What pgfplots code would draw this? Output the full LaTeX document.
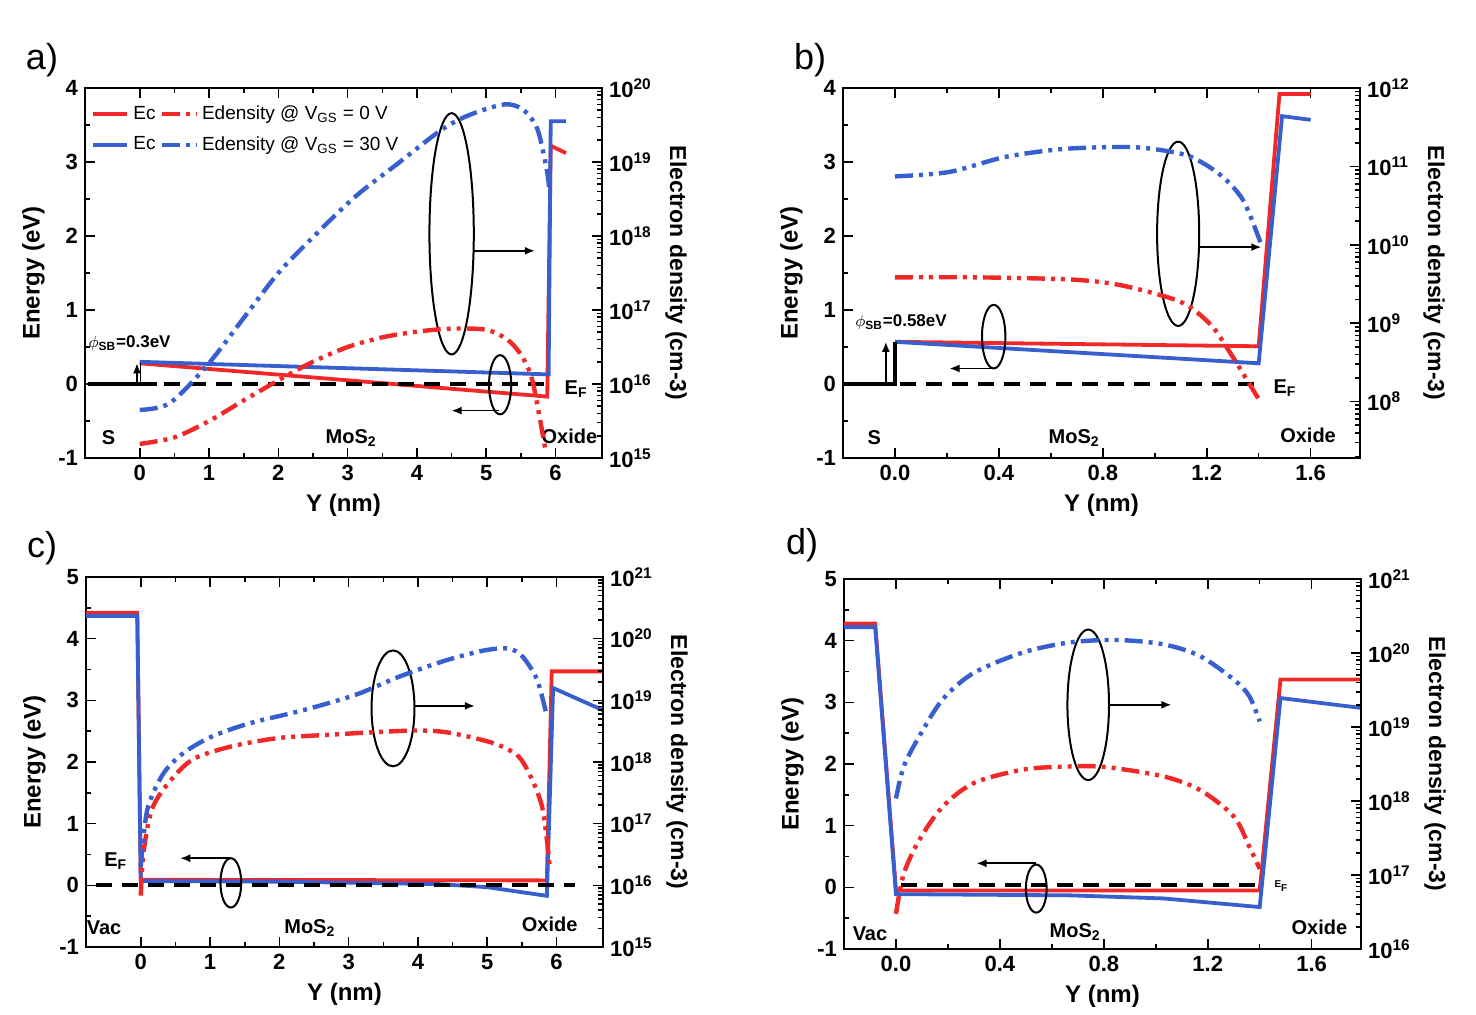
\documentclass[border=0pt]{standalone}
\usepackage{fontspec}
\setmainfont{Liberation Sans}
\usepackage{pgfplots}
\pgfplotsset{compat=1.18}
\usetikzlibrary{arrows.meta}
\definecolor{myred}{RGB}{240,40,40}
\definecolor{myblue}{RGB}{55,95,205}
\newcommand{\tf}{\bfseries\fontsize{11}{12}\selectfont}
\newcommand{\lf}{\bfseries\fontsize{12}{13}\selectfont}
\newcommand{\rf}{\bfseries\fontsize{11.5}{12}\selectfont}
\newcommand{\af}{\bfseries\fontsize{10}{11}\selectfont}
\newcommand{\pf}{\bfseries\fontsize{8.5}{9}\selectfont}
\tikzset{
 arr/.style={-{Latex[length=5pt,width=4pt]}, line width=0.8pt, black},
 ell/.style={line width=1pt, black},
 ec/.style={line width=1.9pt},
 dd/.style={line width=2.2pt, dash pattern=on 9pt off 3pt on 2pt off 3pt on 2pt off 3pt},
}
\pgfplotsset{
 base/.style={scale only axis, width=258.5pt, height=185pt, anchor=north west,
   tick align=inside, axis line style={line width=1pt}, major tick length=5pt, minor tick length=2.5pt,
   every tick/.append style={line width=0.8pt, black}, tick label style={font=\tf}, label style={font=\lf},
   clip mode=individual, /pgf/number format/assume math mode=true},
 eaxis/.style={base, ytick pos=left, ylabel={Energy (eV)}, xlabel={Y (nm)}, minor y tick num=1, minor x tick num=1},
 naxis/.style={base, axis x line=none, axis y line*=right,
   ylabel={Electron density (cm-3)}, ylabel style={rotate=180, font=\rf},
   yticklabel={\pgfmathparse{int(round(\tick))}10\textsuperscript{\pgfmathresult}}},
 wide/.style={xmin=-0.79, xmax=6.67, xtick={0,...,6}},
 narrow/.style={xmin=-0.2, xmax=1.79, xtick={0,0.4,0.8,1.2,1.6}, xticklabel style={/pgf/number format/.cd, fixed, fixed zerofill, precision=1}},
}
\begin{document}
\begin{tikzpicture}
\useasboundingbox (0,0) rectangle (738pt,-507pt);
% ---------------- panel a ----------------
\node[font=\fontsize{18}{18}\selectfont] at (21pt,-30pt) {a)};
\begin{axis}[eaxis, wide, at={(42.5pt,-44pt)}, ymin=-1, ymax=4, ytick={-1,0,...,4}]
\addplot[ec, myred, no markers] coordinates {(0,0.28) (5.88,-0.17) (5.93,3.22) (6.15,3.12)};
\addplot[ec, myblue, no markers] coordinates {(0,0.3) (5.9,0.13) (5.93,3.55) (6.15,3.55)};
\addplot[black, line width=2pt] coordinates {(-0.75,0) (0.25,0)};
\addplot[black, line width=2pt, dash pattern=on 8pt off 5pt] coordinates {(0.35,0) (5.85,0)};
\draw[arr] (axis cs:-0.04,0) -- (axis cs:-0.04,0.28);
\draw[line width=0.8pt] (axis cs:0.01,0) -- (axis cs:0.01,0.28);
\node[anchor=west, font=\pf] at (axis cs:-0.84,0.55) {$\phi$\textsubscript{SB}=0.3eV};
\node[font=\af] at (axis cs:-0.45,-0.73) {S};
\node[font=\af] at (axis cs:3.05,-0.73) {MoS\textsubscript{2}};
\node[font=\af] at (axis cs:6.2,-0.71) {Oxide};
\node[font=\af, anchor=west] at (axis cs:6.03,-0.07) {E\textsubscript{F}};
\draw[ell] (axis cs:4.5,2.03) ellipse [x radius=0.32, y radius=1.63];
\draw[arr] (axis cs:4.82,1.80) -- (axis cs:5.7,1.80);
\draw[ell] (axis cs:5.2,-0.01) ellipse [x radius=0.16, y radius=0.4];
\draw[arr] (axis cs:5.19,-0.36) -- (axis cs:4.5,-0.36);
\end{axis}
\begin{axis}[naxis, wide, ymode=log, log basis y=10, at={(42.5pt,-44pt)}, ymin=1e15, ymax=1e20,
  legend style={at={(rel axis cs:0.0,0.975)}, anchor=north west, draw=none, fill=none,
    font=\fontsize{9.5}{10}\selectfont, row sep=3pt},
  legend columns=2, legend cell align=left]
\addlegendimage{ec, myred, no markers}\addlegendentry{Ec}
\addplot[dd, myred, no markers, smooth] coordinates {(0,1.55e15) (0.5,1.9e15) (1,3.16e15) (1.5,6.0e15) (2,1.12e16) (2.5,2.0e16) (3,3.16e16) (3.5,4.27e16) (4,5.1e16) (4.5,5.6e16) (5,5.4e16) (5.3,4.0e16) (5.5,2.5e16) (5.65,1.26e16) (5.75,4.47e15) (5.85,1.35e15)};
\addlegendentry{Edensity @ V\textsubscript{GS} = 0 V}
\addlegendimage{ec, myblue, no markers}\addlegendentry{Ec}
\addplot[dd, myblue, no markers, smooth] coordinates {(0,4.47e15) (0.43,5.5e15) (0.98,1.82e16) (1.53,8.5e16) (2.01,3.24e17) (2.57,1.12e18) (3.12,3.47e18) (3.74,9.8e18) (4.36,2.75e19) (4.77,4.37e19) (5.26,6.0e19) (5.53,5.1e19) (5.74,2.75e19) (5.88,7.2e18) (5.91,3.9e18)};
\addlegendentry{Edensity @ V\textsubscript{GS} = 30 V}
\end{axis}
% ---------------- panel b ----------------
\node[font=\fontsize{18}{18}\selectfont] at (405pt,-30pt) {b)};
\begin{axis}[eaxis, narrow, at={(421.5pt,-44pt)}, ymin=-1, ymax=4, ytick={-1,0,...,4}]
\addplot[ec, myred, no markers] coordinates {(0,0.57) (1.40,0.51) (1.48,3.92) (1.6,3.92)};
\addplot[ec, myblue, no markers] coordinates {(0,0.57) (1.40,0.28) (1.49,3.62) (1.6,3.57)};
\addplot[black, line width=1.6pt] coordinates {(-0.2,0) (0,0) (0,0.57)};
\addplot[black, line width=2pt, dash pattern=on 8pt off 5pt] coordinates {(0.02,0) (1.40,0)};
\draw[arr] (axis cs:-0.035,0) -- (axis cs:-0.035,0.57);
\node[anchor=west, font=\pf] at (axis cs:-0.18,0.84) {$\phi$\textsubscript{SB}=0.58eV};
\node[font=\af] at (axis cs:-0.08,-0.73) {S};
\node[font=\af] at (axis cs:0.69,-0.73) {MoS\textsubscript{2}};
\node[font=\af] at (axis cs:1.59,-0.69) {Oxide};
\node[font=\af, anchor=west] at (axis cs:1.43,-0.05) {E\textsubscript{F}};
\draw[ell] (axis cs:1.09,2.03) ellipse [x radius=0.081, y radius=1.245];
\draw[arr] (axis cs:1.17,1.85) -- (axis cs:1.41,1.85);
\draw[ell] (axis cs:0.38,0.64) ellipse [x radius=0.045, y radius=0.43];
\draw[arr] (axis cs:0.38,0.21) -- (axis cs:0.21,0.21);
\end{axis}
\begin{axis}[naxis, narrow, ymode=log, log basis y=10, at={(421.5pt,-44pt)}, ymin=1.905e7, ymax=1e12]
\addplot[dd, myred, no markers, smooth] coordinates {(0,3.84e9) (0.32,3.84e9) (0.68,3.6e9) (0.86,3.09e9) (1.04,2.19e9) (1.13,1.65e9) (1.22,9.2e8) (1.29,4.2e8) (1.36,1.77e8) (1.41,9.5e7)};
\addplot[dd, myblue, no markers, smooth] coordinates {(0,7.45e10) (0.21,8.5e10) (0.42,1.31e11) (0.64,1.66e11) (0.86,1.77e11) (0.98,1.69e11) (1.13,1.36e11) (1.25,7.9e10) (1.34,3.7e10) (1.41,1.0e10)};
\end{axis}
% ---------------- panel c ----------------
\node[font=\fontsize{18}{18}\selectfont] at (21pt,-274pt) {c)};
\begin{axis}[eaxis, wide, at={(43pt,-288.5pt)}, ymin=-1, ymax=5, ytick={-1,0,...,5}]
\addplot[ec, myred, no markers] coordinates {(-0.79,4.42) (-0.05,4.42) (0,0.09) (5.86,0.08) (5.93,3.47) (6.67,3.47)};
\addplot[ec, myblue, no markers] coordinates {(-0.79,4.37) (-0.05,4.37) (0,0.07) (2,0.06) (4.3,0.02) (5,-0.03) (5.86,-0.17) (5.95,3.2) (6.67,2.84)};
\addplot[black, line width=2pt, dash pattern=on 8pt off 5pt] coordinates {(-0.64,0) (6.27,0)};
\node[font=\af] at (axis cs:-0.53,-0.69) {Vac};
\node[font=\af] at (axis cs:2.44,-0.69) {MoS\textsubscript{2}};
\node[font=\af] at (axis cs:5.9,-0.63) {Oxide};
\node[font=\af] at (axis cs:-0.36,0.39) {E\textsubscript{F}};
\draw[ell] (axis cs:3.64,2.87) ellipse [x radius=0.31, y radius=0.94];
\draw[arr] (axis cs:3.96,2.91) -- (axis cs:4.82,2.91);
\draw[ell] (axis cs:1.30,0.04) ellipse [x radius=0.15, y radius=0.40];
\draw[arr] (axis cs:1.30,0.44) -- (axis cs:0.57,0.44);
\end{axis}
\begin{axis}[naxis, wide, ymode=log, log basis y=10, at={(43pt,-288.5pt)}, ymin=1e15, ymax=1e21]
\addplot[dd, myred, no markers, smooth] coordinates {(0,6.8e15) (0.04,3.4e16) (0.16,1.7e17) (0.40,4.57e17) (0.75,1.1e18) (1.30,1.78e18) (1.99,2.45e18) (2.68,2.75e18) (3.51,3.1e18) (4.06,3.24e18) (4.48,2.95e18) (5.10,2.0e18) (5.45,1.23e18) (5.65,5.1e17) (5.79,1.9e17) (5.86,5.5e16) (5.90,2.04e16)};
\addplot[dd, myblue, no markers, smooth] coordinates {(0,2.0e16) (0.05,7.9e16) (0.12,2.14e17) (0.33,6.6e17) (0.61,1.38e18) (1.02,2.57e18) (1.58,4.27e18) (2.34,6.9e18) (3.10,1.23e19) (3.72,2.4e19) (4.41,4.47e19) (4.96,6.46e19) (5.31,6.9e19) (5.51,5.1e19) (5.72,2.14e19) (5.86,5.5e18)};
\end{axis}
% ---------------- panel d ----------------
\node[font=\fontsize{18}{18}\selectfont] at (401pt,-272.5pt) {d)};
\begin{axis}[eaxis, narrow, at={(422pt,-289.5pt)}, ymin=-1, ymax=5, ytick={-1,0,...,5}]
\addplot[ec, myred, no markers] coordinates {(-0.2,4.28) (-0.08,4.28) (0,-0.05) (1.40,-0.05) (1.48,3.37) (1.79,3.37)};
\addplot[ec, myblue, no markers] coordinates {(-0.2,4.22) (-0.08,4.22) (0,-0.11) (0.67,-0.13) (1.03,-0.18) (1.40,-0.32) (1.48,3.07) (1.79,2.91)};
\addplot[black, line width=2pt, dash pattern=on 8pt off 5pt] coordinates {(0.02,0.03) (1.40,0.03)};
\node[font=\af] at (axis cs:-0.10,-0.75) {Vac};
\node[font=\af] at (axis cs:0.69,-0.73) {MoS\textsubscript{2}};
\node[font=\af] at (axis cs:1.63,-0.65) {Oxide};
\node[font=\bfseries\fontsize{5}{5}\selectfont, anchor=west] at (axis cs:1.43,0.02) {E\textsubscript{F}};
\draw[ell] (axis cs:0.74,2.96) ellipse [x radius=0.08, y radius=1.22];
\draw[arr] (axis cs:0.82,2.96) -- (axis cs:1.06,2.96);
\draw[ell] (axis cs:0.54,-0.02) ellipse [x radius=0.04, y radius=0.39];
\draw[arr] (axis cs:0.54,0.39) -- (axis cs:0.31,0.39);
\end{axis}
\begin{axis}[naxis, narrow, ymode=log, log basis y=10, at={(422pt,-289.5pt)}, ymin=1e16, ymax=1e21]
\addplot[dd, myred, no markers, smooth] coordinates {(0,2.99e16) (0.03,1.04e17) (0.09,2.99e17) (0.18,8.4e17) (0.30,1.75e18) (0.49,2.66e18) (0.67,2.93e18) (0.81,2.87e18) (1.03,2.15e18) (1.17,1.41e18) (1.30,6.2e17) (1.36,2.42e17) (1.40,1.21e17)};
\addplot[dd, myblue, no markers, smooth] coordinates {(0,1.08e18) (0.03,2.93e18) (0.09,7.5e18) (0.18,2.37e19) (0.30,5.4e19) (0.49,1.02e20) (0.67,1.39e20) (0.85,1.5e20) (1.03,1.31e20) (1.17,9.1e19) (1.30,4.38e19) (1.36,2.61e19) (1.40,1.19e19)};
\end{axis}
\end{tikzpicture}
\end{document}
